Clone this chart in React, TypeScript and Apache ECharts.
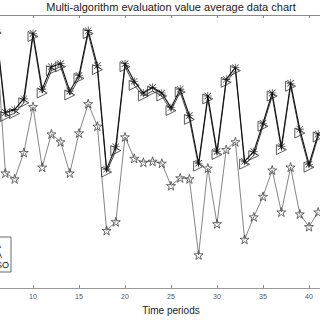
import React, { useEffect, useRef } from "react";
import * as echarts from "echarts";

// Time periods shown in the plot window
const periods = [6, 7, 8, 9, 10, 11, 12, 13, 14, 15, 16, 17, 18, 19, 20, 21, 22, 23, 24, 25, 26, 27, 28, 29, 30, 31, 32, 33, 34, 35, 36, 37, 38, 39, 40, 41];

// Average evaluation value per period for each algorithm
const asteriskSeries = [26.5, 18.0, 18.3, 19.4, 26.1, 20.4, 22.7, 23.0, 20.2, 21.8, 26.4, 22.8, 12.2, 14.5, 23.0, 21.2, 20.0, 20.6, 20.0, 18.5, 20.4, 17.7, 12.8, 19.7, 14.0, 21.4, 22.6, 13.0, 14.0, 16.9, 20.0, 14.5, 21.0, 16.3, 12.7, 15.8];
const triangleSeries = [26.2, 17.6, 17.9, 19.0, 25.8, 20.0, 22.3, 22.7, 19.8, 21.5, 26.1, 22.4, 11.9, 14.1, 22.7, 20.8, 19.7, 20.2, 19.7, 18.2, 20.1, 17.3, 12.5, 19.4, 13.7, 21.1, 22.3, 12.7, 13.6, 16.6, 19.7, 14.2, 20.7, 15.9, 12.4, 15.5];
const starSeries = [26.0, 11.8, 11.2, 13.9, 18.6, 12.4, 15.8, 15.0, 11.8, 15.9, 18.9, 16.6, 5.9, 6.8, 15.5, 13.3, 12.9, 13.0, 12.8, 10.5, 11.3, 11.2, 3.4, 12.3, 6.6, 14.2, 15.0, 5.0, 7.3, 9.4, 12.1, 7.8, 12.4, 7.6, 6.3, 7.8];

const seriesNames = ["FA", "BA", "PSO"];
const chartTitle = "Multi-algorithm evaluation value average data chart";
const xAxisTitle = "Time periods";
const labelledTicks = [10, 15, 20, 25, 30, 35, 40];

const ASTERISK =
  "path://M9.3,0H10.7V20H9.3Z M0,9.3H20V10.7H0Z M2.4,1.4L18.6,17.6L17.6,18.6L1.4,2.4Z M17.6,1.4L18.6,2.4L2.4,18.6L1.4,17.6Z";
const PENTAGRAM =
  "path://M50,2L61.2,36.5L97.5,36.5L68.2,57.9L79.4,92.4L50,71L20.6,92.4L31.8,57.9L2.5,36.5L38.8,36.5Z";

const pairs = (vals: number[]) => vals.map((v, i) => [periods[i], v]);

// The figure is wider than the window; it is shifted left and clipped.
const SHIFT = 120;
const WIDTH = 560;
const GRID_LEFT = 61;
const GRID_RIGHT = 39;

export default function App() {
  const ref = useRef<HTMLDivElement>(null);

  useEffect(() => {
    if (!ref.current) return;
    const chart = echarts.init(ref.current, undefined, { renderer: "svg" });
    const axisCenter = GRID_LEFT + (WIDTH - GRID_LEFT - GRID_RIGHT) / 2;
    chart.setOption({
      animation: false,
      backgroundColor: "#fff",
      textStyle: { fontFamily: "Liberation Sans, Arial, sans-serif" },
      grid: { left: GRID_LEFT, right: GRID_RIGHT, top: 15, bottom: 25, containLabel: false },
      graphic: [
        {
          type: "text",
          x: axisCenter,
          y: 7,
          style: {
            text: chartTitle,
            fontSize: 11,
            fill: "#1a1a1a",
            textAlign: "center",
            textVerticalAlign: "middle",
            fontFamily: "Liberation Sans, Arial, sans-serif",
          },
        },
      ],
      legend: {
        orient: "vertical",
        left: 76,
        top: 237,
        padding: [3, 2, 3, 3],
        itemGap: 1,
        itemWidth: 25,
        itemHeight: 8,
        borderColor: "#444",
        borderWidth: 0.8,
        backgroundColor: "#fff",
        textStyle: { fontSize: 9, color: "#111" },
        data: seriesNames,
      },
      xAxis: [
        {
          type: "value",
          position: "bottom",
          min: 0,
          max: 50,
          interval: 5,
          name: xAxisTitle,
          nameLocation: "middle",
          nameGap: 12,
          nameTextStyle: { fontSize: 10, color: "#222" },
          axisLine: { lineStyle: { color: "#9a9a9a", width: 1 } },
          axisTick: { inside: true, length: 3, lineStyle: { color: "#888" } },
          axisLabel: {
            fontSize: 7,
            color: "#555",
            margin: 5,
            formatter: (v: number) => (labelledTicks.includes(v) ? String(v) : ""),
          },
          splitLine: { show: false },
        },
        {
          type: "value",
          position: "top",
          min: 0,
          max: 50,
          interval: 5,
          axisLine: { lineStyle: { color: "#8a8a8a", width: 1 } },
          axisTick: { inside: true, length: 3, lineStyle: { color: "#888" } },
          axisLabel: { show: false },
          splitLine: { show: false },
        },
      ],
      yAxis: [
        {
          type: "value",
          min: 0,
          max: 28,
          axisLine: { show: true, lineStyle: { color: "#8a8a8a" } },
          axisTick: { show: false },
          axisLabel: { show: false },
          splitLine: { show: false },
        },
      ],
      series: [
        {
          name: seriesNames[0],
          type: "line",
          data: pairs(asteriskSeries),
          symbol: ASTERISK,
          symbolSize: 8,
          lineStyle: { color: "#111", width: 1.1 },
          itemStyle: { color: "#111" },
          z: 4,
        },
        {
          name: seriesNames[1],
          type: "line",
          data: pairs(triangleSeries),
          symbol: "triangle",
          symbolRotate: -90,
          symbolSize: 10,
          lineStyle: { color: "#333", width: 0.9 },
          itemStyle: { color: "rgba(255,255,255,0)", borderColor: "#333", borderWidth: 0.8 },
          z: 3,
        },
        {
          name: seriesNames[2],
          type: "line",
          data: pairs(starSeries),
          symbol: PENTAGRAM,
          symbolSize: 9,
          lineStyle: { color: "#666", width: 0.8 },
          itemStyle: { color: "rgba(255,255,255,0)", borderColor: "#444", borderWidth: 0.8 },
          z: 2,
        },
      ],
    });
    return () => chart.dispose();
  }, []);

  return (
    <div
      style={{
        position: "fixed",
        left: 0,
        top: 0,
        width: 320,
        height: 320,
        overflow: "hidden",
        background: "#fff",
      }}
    >
      <div
        ref={ref}
        style={{ position: "absolute", left: -SHIFT, top: 0, width: WIDTH, height: 320 }}
      />
    </div>
  );
}
